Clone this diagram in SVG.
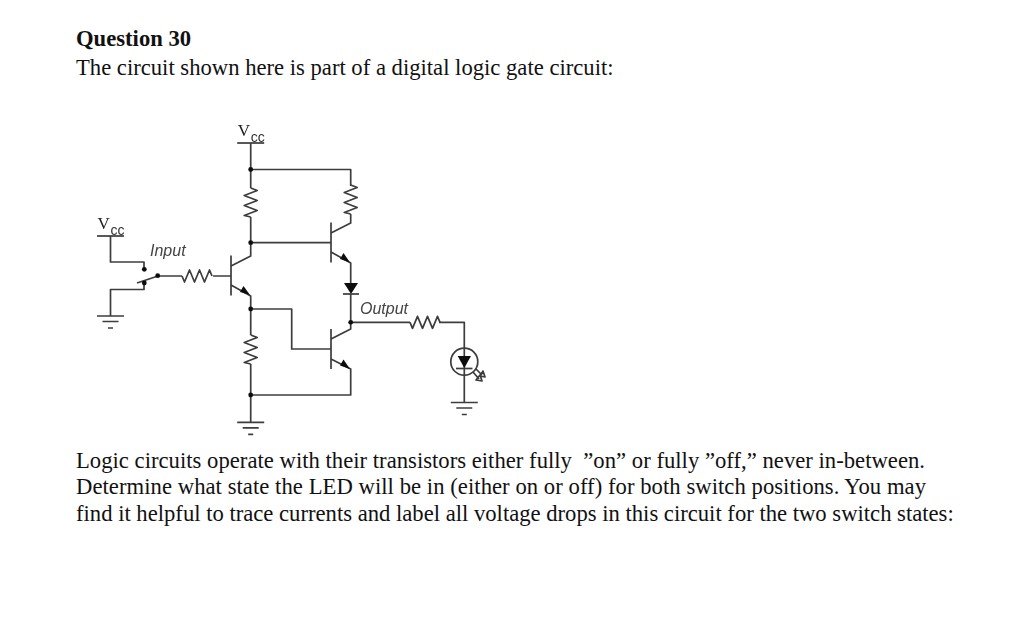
<svg xmlns="http://www.w3.org/2000/svg" width="1024" height="627" viewBox="0 0 1024 627">
<style>
.t{font-family:"Liberation Serif","Times New Roman",serif;font-size:22.650px;fill:#111;white-space:pre}
.b{font-weight:bold}
.w{fill:none;stroke:#3c3c3c;stroke-width:1.700;stroke-linejoin:round}
.d{fill:#111;stroke:none}
.v{font-family:"Liberation Serif",serif;font-size:17px;fill:#222}
.c{font-family:"Liberation Sans",sans-serif;font-size:14px;fill:#333}
.l{font-family:"Liberation Sans",sans-serif;font-style:italic;font-size:16px;fill:#444}
</style>
<defs>
<filter id="soft" x="-5%" y="-5%" width="110%" height="110%"><feGaussianBlur stdDeviation="0.400"/></filter>
<g id="gnd"><path class="w" d="M-13.500 0H13.500M-8 5.500H8M-2.500 12H2.500"/></g>
<g id="vcc"><path class="w" d="M-13.500 0H13.500"/><text class="v" x="-13" y="-7">V</text><text class="c" x="0" y="-1">cc</text></g>
<path id="rv" class="w" d="M0 0L6.500 2.500L-6.500 7.500L6.500 12.500L-6.500 17.500L6.500 22.500L-6.500 27.500L0 29"/>
<path id="rh" class="w" d="M0 0L2.500 6L7.500 -6L12.500 6L17.500 -6L22.500 6L27.500 -6L30 0"/>
</defs>
<g id="heading">
<text class="t b" x="76" y="46">Question 30</text>
<text class="t" x="76" y="75">The circuit shown here is part of a digital logic gate circuit:</text>
</g>
<g filter="url(#soft)">
<g id="connectors">
<path class="w" d="M110.500 236V262H144V269"/>
<path class="w" d="M144 283V289.500H110.500V316"/>
<path class="w" d="M137 283L158 276"/>
<path class="w" d="M158 276H182M213 276H231"/>
<path class="w" d="M250.700 143V188M250.700 217V256L231 266"/>
<path class="w" d="M250.700 169.500H350.700V186M350.700 214V223L331 233"/>
<path class="w" d="M250.700 242.700H331"/>
<path class="w" d="M231 285L250.700 296V335M250.700 364V422"/>
<path class="w" d="M250.700 309H291.700V349H331"/>
<path class="w" d="M331 252L350.700 263V283M350.700 294V329L331 339"/>
<path class="w" d="M331 359L350.700 369V395H250.700"/>
<path class="w" d="M350.700 322.300H410M439 322.300H464.300V402.500"/>
</g>
<g id="vcc-left"><use href="#vcc" x="110.500" y="236"/></g>
<g id="vcc-top"><use href="#vcc" x="250.700" y="143"/></g>
<g id="label-input"><text class="l" x="150" y="256">Input</text></g>
<g id="label-output"><text class="l" x="360" y="313.500">Output</text></g>
<g id="switch">
<circle class="d" cx="144.300" cy="269.300" r="2.400"/>
<circle class="d" cx="144.300" cy="283" r="2.400"/>
<circle class="d" cx="157.700" cy="275.700" r="2.400"/>
</g>
<g id="r-input"><use href="#rh" x="182" y="276"/></g>
<g id="q1"><path class="w" d="M231 255.500V295.500"/><path class="d" d="M250 295L240 292L243.500 286Z"/></g>
<g id="r1"><use href="#rv" x="250.700" y="188"/></g>
<g id="r2"><use href="#rv" x="350.700" y="185"/></g>
<g id="q2"><path class="w" d="M331 222.500V262.500"/><path class="d" d="M350 262.500L340 259L343.500 253Z"/></g>
<g id="d1"><path class="d" d="M344 283H358L351 294Z"/><path class="w" d="M343 294H359"/></g>
<g id="q3"><path class="w" d="M331 329V369"/><path class="d" d="M350 369L340 365.500L343.500 359.500Z"/></g>
<g id="r3"><use href="#rv" x="250.700" y="335"/></g>
<g id="r-output"><use href="#rh" x="410" y="322.300"/></g>
<g id="led">
<circle class="w" cx="464.300" cy="361.700" r="13.500"/>
<path class="d" d="M457.700 356H471L464.300 368Z"/>
<path class="w" d="M456 368.500H472.500"/>
<path class="w" d="M473 372L479 379M476 369L482 375"/>
<path class="w" d="M476 380L482 381L480 375ZM480 376L485 377L483 371Z"/>
</g>
<g id="junctions">
<circle class="d" cx="250.700" cy="169.500" r="2.400"/>
<circle class="d" cx="250.700" cy="242.700" r="2.400"/>
<circle class="d" cx="250.700" cy="309" r="2.400"/>
<circle class="d" cx="250.700" cy="395" r="2.400"/>
<circle class="d" cx="350.700" cy="322.300" r="2.400"/>
</g>
<g id="grounds">
<use href="#gnd" x="110.500" y="316"/>
<use href="#gnd" x="250.700" y="422.300"/>
<use href="#gnd" x="464.300" y="402.500"/>
</g>
</g>
<g id="body">
<text class="t" x="76" y="468" textLength="849" lengthAdjust="spacing">Logic circuits operate with their transistors either fully  ”on” or fully ”off,” never in-between.</text>
<text class="t" x="76" y="494" textLength="850" lengthAdjust="spacing">Determine what state the LED will be in (either on or off) for both switch positions. You may</text>
<text class="t" x="76" y="521">find it helpful to trace currents and label all voltage drops in this circuit for the two switch states:</text>
</g>
</svg>
